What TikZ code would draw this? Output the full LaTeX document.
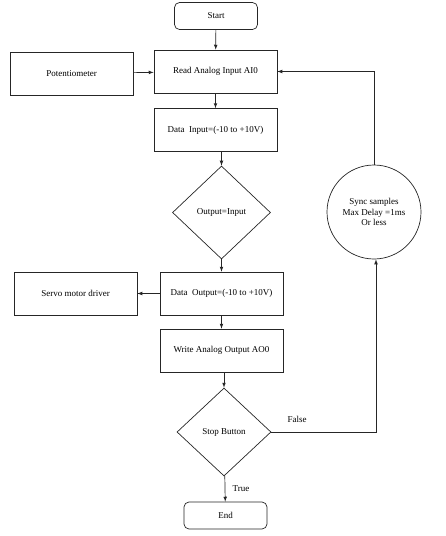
\documentclass[tikz,border=0pt]{standalone}
\usepackage{fontspec}
\setmainfont{Liberation Serif}
\usetikzlibrary{shapes.geometric}
\tikzset{
  box/.style={draw, rectangle, minimum width=123pt, minimum height=43pt, inner sep=1pt},
  term/.style={draw, rectangle, rounded corners=5pt, minimum width=83pt, minimum height=27pt},
  decide/.style={draw, diamond, minimum width=98pt, minimum height=93pt, inner sep=0pt},
  sync/.style={draw, circle, minimum size=94pt, inner sep=0pt, align=center},
  flow/.style={-latex}
}
\begin{document}
\begin{tikzpicture}[x=1pt, y=-1pt, font=\fontsize{9}{10.5}\selectfont, line width=0.7pt, draw=black!85]
    \useasboundingbox (0,0) rectangle (446,536);

    % Main column
    \node[term] (start) at (216,16) {Start};
    \node[box] (read) at (215.5,71.5) {Read Analog Input AI0};
    \node[box] (pot) at (71.5,73.5) {Potentiometer};
    \node[box] (din) at (215.5,130) {Data\ \ Input=(-10 to +10V)};
    \node[decide] (cmp) at (221.5,212.5) {Output=Input};
    \node[box] (dout) at (221.5,293.5) {Data\ \ Output=(-10 to +10V)};
    \node[box] (servo) at (75.5,293.5) {Servo motor driver};
    \node[box] (write) at (221.5,350.5) {Write Analog Output AO0};
    \node[decide, minimum width=94pt, minimum height=88pt] (stop) at (224,432) {Stop Button};
    \node[term] (end) at (225.5,515.5) {End};

    % Sync loop
    \node[sync] (sync) at (374,212) {Sync samples\\Max Delay =1ms\\Or less};
    \coordinate (fb) at (376,432);

    % Arrows
    \draw[flow] (start) -- (read);
    \draw[flow] (pot) -- (read);
    \draw[flow] (read) -- (din);
    \draw[flow] (din.south -| cmp.north) -- (cmp);
    \draw[flow] (cmp) -- (dout);
    \draw[flow] (dout) -- (servo);
    \draw[flow] (dout) -- (write);
    \draw[flow] (write.south -| stop.north) -- (stop);
    \draw[flow] (stop) -- node[right, xshift=4pt]{True} (end);
    \draw[flow] (stop.east) -- (fb) -- (sync.south -| fb);
    \draw[flow] (sync.north) |- (read.east);

    % Branch label
    \node[anchor=south west] (lblfalse) at (284,426) {False};
\end{tikzpicture}
\end{document}
